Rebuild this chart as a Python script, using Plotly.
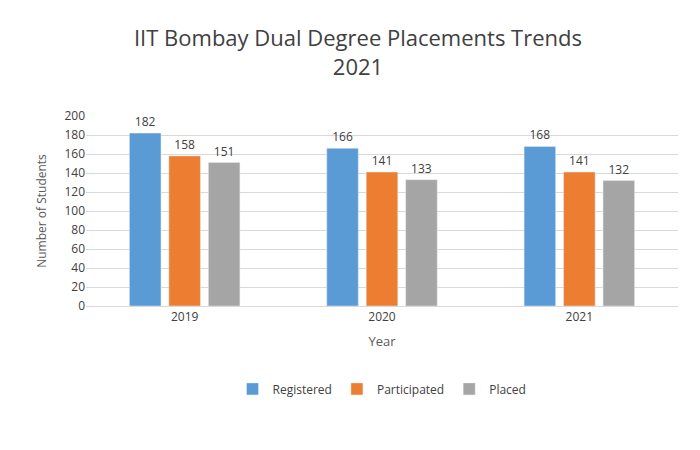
import plotly.graph_objects as go

years = ["2019", "2020", "2021"]
registered = [182, 166, 168]
participated = [158, 141, 141]
placed = [151, 133, 132]

series = [("Registered", registered, "#5B9BD5"),
          ("Participated", participated, "#ED7D31"),
          ("Placed", placed, "#A5A5A5")]

fig = go.Figure()
for name, vals, col in series:
    fig.add_trace(go.Bar(x=years, y=vals, name=name, marker_color=col,
                         text=vals, textposition="outside",
                         textfont=dict(size=12, color="#404040"), cliponaxis=False))

fig.update_layout(
    width=700, height=450, barmode="group", bargap=0.4, bargroupgap=0.2,
    paper_bgcolor="white", plot_bgcolor="white",
    font=dict(family="Open Sans", color="#595959", size=12),
    title=dict(text="IIT Bombay Dual Degree Placements Trends<br>2021", x=0.5, xanchor="center",
               y=0.915, yanchor="top", font=dict(size=22, color="#404040")),
    margin=dict(l=78, r=30, t=108, b=152),
    xaxis=dict(title=dict(text="Year", font=dict(size=13), standoff=12), showline=True, linecolor="#D9D9D9",
               ticks="", tickfont=dict(size=12, color="#404040")),
    yaxis=dict(title=dict(text="Number of Students", font=dict(size=12)), range=[0, 200], dtick=20,
               gridcolor="#D9D9D9", zeroline=False, tickfont=dict(size=12, color="#404040")),
    legend=dict(orientation="h", x=0.5, xanchor="center", y=-0.36, yanchor="top",
                font=dict(size=12, color="#404040")),
)
fig.write_html("out.html")
